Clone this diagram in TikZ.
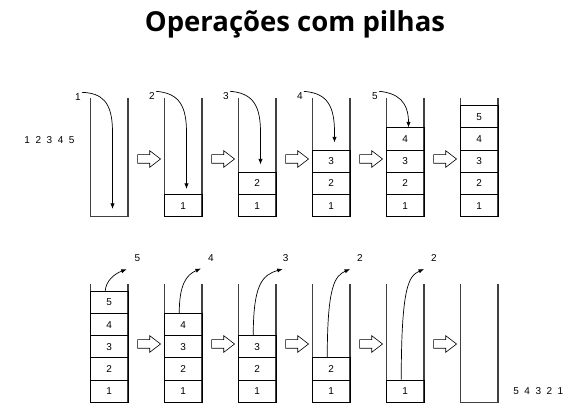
\documentclass[tikz,border=0pt]{standalone}
\usepackage{fontspec}
\setmainfont{Liberation Sans}
\newfontfamily\titlefont{Open Sans}
\usetikzlibrary{shapes.arrows, arrows.meta}

\begin{document}
\begin{tikzpicture}[x=1pt, y=-1pt, font=\fontsize{10}{12}\selectfont,
  cell/.style={draw, line width=1pt, minimum width=37.5pt, minimum height=22.2pt, inner sep=0pt},
  wall/.style={draw=black!75, line width=1.2pt},
  lbl/.style={inner sep=1pt},
  push/.style={-{Latex[length=5.5pt, width=4.2pt]}, line width=0.7pt},
  nextarrow/.style={draw, single arrow, line width=0.6pt, minimum height=23pt, inner xsep=0pt, inner ysep=4pt, single arrow head extend=4pt, single arrow tip angle=75}]
\useasboundingbox (0,0) rectangle (587,411);
\node[anchor=base] (title) at (295,31.7) {\titlefont\bfseries\fontsize{27.5}{32}\selectfont Operações com pilhas};
% Top row: push
\node (input) at (49.5,140) {1~~2~~3~~4~~5};
\draw[wall] (90.5,98.3) -- (90.5,216.7) -- (128,216.7) -- (128,98.3);
\draw[wall] (164.5,98.3) -- (164.5,216.7) -- (202,216.7) -- (202,98.3);
\draw[wall] (238.5,98.3) -- (238.5,216.7) -- (276,216.7) -- (276,98.3);
\draw[wall] (312.5,98.3) -- (312.5,216.7) -- (350,216.7) -- (350,98.3);
\draw[wall] (386.5,98.3) -- (386.5,216.7) -- (424,216.7) -- (424,98.3);
\draw[wall] (460.5,98.3) -- (460.5,216.7) -- (498,216.7) -- (498,98.3);
\node[cell] (a21) at (183.25,205.6) {1};
\node[cell] (a31) at (257.25,205.6) {1};
\node[cell] (a32) at (257.25,183.4) {2};
\node[cell] (a41) at (331.25,205.6) {1};
\node[cell] (a42) at (331.25,183.4) {2};
\node[cell] (a43) at (331.25,161.2) {3};
\node[cell] (a51) at (405.25,205.6) {1};
\node[cell] (a52) at (405.25,183.4) {2};
\node[cell] (a53) at (405.25,161.2) {3};
\node[cell] (a54) at (405.25,139.0) {4};
\node[cell] (a61) at (479.25,205.6) {1};
\node[cell] (a62) at (479.25,183.4) {2};
\node[cell] (a63) at (479.25,161.2) {3};
\node[cell] (a64) at (479.25,139.0) {4};
\node[cell] (a65) at (479.25,116.8) {5};
\node[lbl] (n1) at (78,97) {1};
\node[lbl] (n2) at (152,96) {2};
\node[lbl] (n3) at (226,96) {3};
\node[lbl] (n4) at (300,96) {4};
\node[lbl] (n5) at (375,96) {5};
\coordinate (e1) at (112.5,209);
\coordinate (e2) at (186.5,189);
\coordinate (e3) at (260.5,164.5);
\coordinate (e4) at (334.5,142.5);
\coordinate (e5) at (408.5,127.5);
\node[nextarrow] (s1) at (146.25,159) {};
\node[nextarrow] (s2) at (220.25,159) {};
\node[nextarrow] (s3) at (294.25,159) {};
\node[nextarrow] (s4) at (368.25,159) {};
\node[nextarrow] (s5) at (442.25,159) {};
% Arrows
\draw[push] (n1.north east) .. controls (102,93) and (112,102) .. (112.5,130) -- (e1);
\draw[push] (n2.north east) .. controls (176,93) and (186,102) .. (186.5,130) -- (e2);
\draw[push] (n3.north east) .. controls (250,93) and (260,102) .. (260.5,130) -- (e3);
\draw[push] (n4.north east) .. controls (324,93) and (334,102) .. (334.5,130) -- (e4);
\draw[push] (n5.north east) .. controls (398,93) and (408.5,102) .. (e5);
% Bottom row: pop
\node (output) at (538.3,391) {5~~4~~3~~2~~1};
\draw[wall] (90.5,284.3) -- (90.5,402.3) -- (128,402.3) -- (128,284.3);
\draw[wall] (164.5,284.3) -- (164.5,402.3) -- (202,402.3) -- (202,284.3);
\draw[wall] (238.5,284.3) -- (238.5,402.3) -- (276,402.3) -- (276,284.3);
\draw[wall] (312.5,284.3) -- (312.5,402.3) -- (350,402.3) -- (350,284.3);
\draw[wall] (386.5,284.3) -- (386.5,402.3) -- (424,402.3) -- (424,284.3);
\draw[wall] (460.5,284.3) -- (460.5,402.3) -- (498,402.3) -- (498,284.3);
\node[cell] (b11) at (109.25,391.2) {1};
\node[cell] (b12) at (109.25,369.0) {2};
\node[cell] (b13) at (109.25,346.8) {3};
\node[cell] (b14) at (109.25,324.6) {4};
\node[cell] (b15) at (109.25,302.4) {5};
\node[cell] (b21) at (183.25,391.2) {1};
\node[cell] (b22) at (183.25,369.0) {2};
\node[cell] (b23) at (183.25,346.8) {3};
\node[cell] (b24) at (183.25,324.6) {4};
\node[cell] (b31) at (257.25,391.2) {1};
\node[cell] (b32) at (257.25,369.0) {2};
\node[cell] (b33) at (257.25,346.8) {3};
\node[cell] (b41) at (331.25,391.2) {1};
\node[cell] (b42) at (331.25,369.0) {2};
\node[cell] (b51) at (405.25,391.2) {1};
\node[lbl] (m1) at (137.3,258.3) {5};
\node[lbl] (m2) at (211,258.3) {4};
\node[lbl] (m3) at (285.7,258.3) {3};
\node[lbl] (m4) at (360,258.3) {2};
\node[lbl] (m5) at (434,258.3) {2};
\coordinate (f1) at (126.7,269.3);
\coordinate (f2) at (201,268.5);
\coordinate (f3) at (282.7,269);
\coordinate (f4) at (350,269);
\coordinate (f5) at (424,269);
\node[nextarrow] (t1) at (146.25,344) {};
\node[nextarrow] (t2) at (220.25,344) {};
\node[nextarrow] (t3) at (294.25,344) {};
\node[nextarrow] (t4) at (368.25,344) {};
\node[nextarrow] (t5) at (442.25,344) {};
% Arrows
\draw[push] ([xshift=-4pt]b15.north) .. controls (106,281) and (114,274) .. (f1);
\draw[push] ([xshift=-4pt]b24.north) .. controls (179.3,285) and (186,275) .. (f2);
\draw[push] ([xshift=-4pt]b33.north) .. controls (253.3,285) and (262,275) .. (f3);
\draw[push] ([xshift=-4pt]b42.north) .. controls (327.3,285) and (335,276) .. (f4);
\draw[push] ([xshift=-4pt]b51.north) .. controls (401.3,285) and (409,276) .. (f5);
\end{tikzpicture}
\end{document}
